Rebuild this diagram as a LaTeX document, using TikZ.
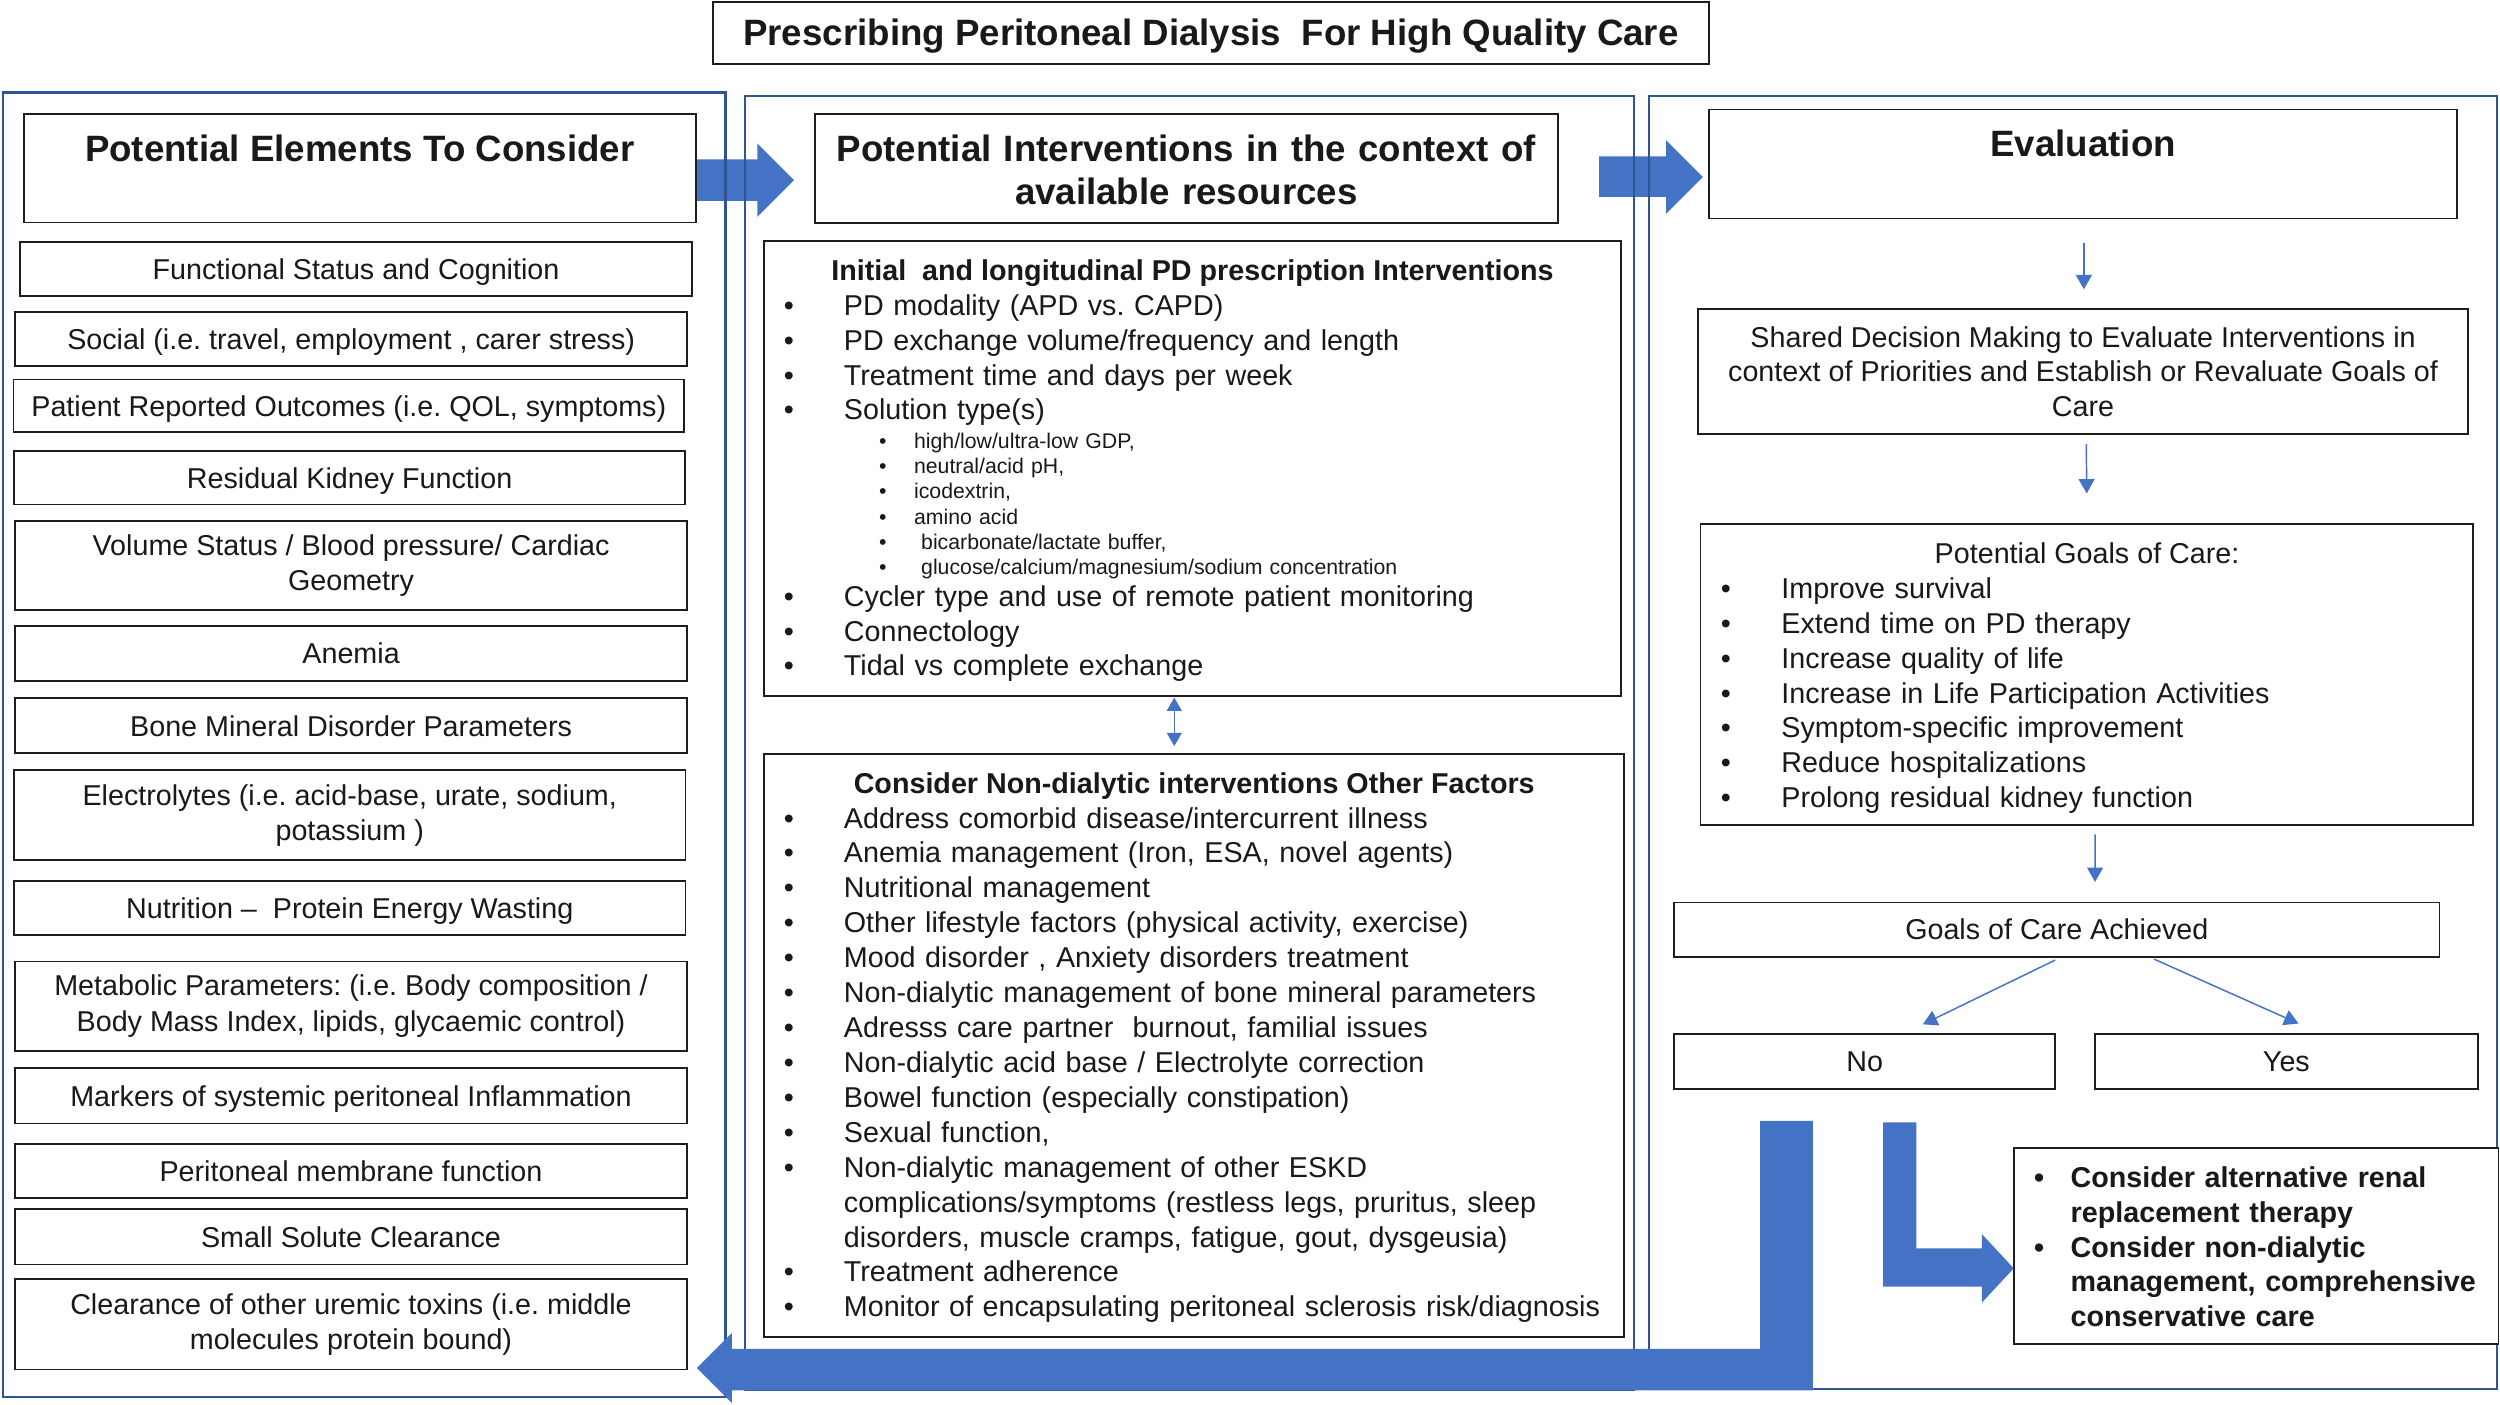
\documentclass[tikz,border=0pt]{standalone}
\usepackage{fontspec}
\setmainfont{Liberation Sans}
\usetikzlibrary{arrows.meta,calc}
\definecolor{pblue}{RGB}{47,85,151}
\definecolor{ablue}{RGB}{68,114,196}
\definecolor{txt}{RGB}{25,25,25}
\definecolor{bdr}{RGB}{30,30,30}
\frenchspacing
\newlength\bw
\newcommand\itm[1]{\makebox[\bw][l]{\textbullet}#1}
\newcommand\cnt[1]{\hspace*{\bw}#1}
\newcommand\fR{\fontsize{10.8pt}{13.2pt}\selectfont}
\newcommand\fSh{\fontsize{10.8pt}{12.9pt}\selectfont}
\newcommand\fL{\fontsize{10.8pt}{13.14pt}\selectfont}
\newcommand\fLa{\fontsize{10.8pt}{13.02pt}\selectfont}
\newcommand\fS{\fontsize{8pt}{9.54pt}\selectfont}
\newcommand\fB{\fontsize{10.8pt}{13.02pt}\selectfont\bfseries}
\newcommand\fH{\fontsize{13.8pt}{16.2pt}\selectfont\bfseries}
\newcommand\bx[6]{\node[#1, minimum width={(#5-(#3))*0.6pt}, minimum height={(#6-(#4))*0.6pt}] (#2) at ({(#3+#5)/2},{(#4+#6)/2})}
\begin{document}
\begin{tikzpicture}[x=0.6pt, y=-0.6pt,
  box/.style={draw=bdr, line width=0.65pt, fill=white, text=txt, align=center, inner sep=0pt, font=\fR},
  one/.style={box, text height=7.8pt, text depth=0pt},
  panel/.style={draw=pblue, line width=0.8pt, inner sep=0pt},
  lst/.style={anchor=north west, inner sep=0pt, align=left, text width=#1, text=txt, execute at begin node={\parindent=0pt\relax}},
  tx/.style={inner sep=0pt, text=txt},
  arr/.style={draw=ablue, line width=0.55pt, -{Triangle[width=6pt,length=5.4pt]}},
  darr/.style={draw=ablue, line width=0.55pt, {Triangle[width=5.6pt,length=5pt]}-{Triangle[width=5.6pt,length=5pt]}},
  blk/.style={fill=ablue, draw=none}]
\useasboundingbox (0,0) rectangle (1568,881);
\fill[white] (0,0) rectangle (1568,881);

% top block arrows (under the panel lines)
\fill[blk] (433,100) -- (475,100) -- (475,90) -- (498,113) -- (475,136) -- (475,126) -- (433,126) -- cycle;
\fill[blk] (1003,98) -- (1045,98) -- (1045,88) -- (1068,111) -- (1045,134) -- (1045,123.5) -- (1003,123.5) -- cycle;

% panels
\bx{panel}{pL}{2}{58}{455}{876}{};
\bx{panel}{pM}{467}{60}{1025}{872}{};
\bx{panel}{pR}{1034}{60}{1566}{871}{};

% title
\bx{one, font=\fH, text height=9.9pt}{title}{447}{1.2}{1072}{40}{Prescribing Peritoneal Dialysis~ For High Quality Care};

% left column
\bx{box}{elem}{15}{71.5}{436.5}{139.5}{};
\node[tx, anchor=base, font=\fH] (elemT) at (225.7,101.2) {Potential Elements To Consider};
\bx{one}{f1}{12.6}{151.6}{434}{185.7}{Functional Status and Cognition};
\bx{one}{f2}{9.5}{195.5}{431}{229.6}{Social (i.e. travel, employment , carer stress)};
\bx{one}{f3}{8.5}{238}{429}{271}{Patient Reported Outcomes (i.e. QOL, symptoms)};
\bx{one}{f4}{9}{283}{429.5}{316.5}{Residual Kidney Function};
\bx{box}{f5}{9.4}{326.6}{431}{382.7}{Volume Status / Blood pressure/ Cardiac\\Geometry};
\bx{one}{f6}{9.4}{392.7}{431}{427}{Anemia};
\bx{one}{f7}{9.4}{438}{431}{472.5}{Bone Mineral Disorder Parameters};
\bx{box}{f8}{8.7}{483}{430}{539.5}{Electrolytes (i.e. acid-base, urate, sodium,\\potassium )};
\bx{one}{f9}{8.7}{552.7}{430}{586.6}{Nutrition –~ Protein Energy Wasting};
\bx{box}{f10}{9.3}{603}{431}{659}{Metabolic Parameters: (i.e. Body composition /\\Body Mass Index, lipids, glycaemic control)};
\bx{one}{f11}{9.3}{670}{431}{704.7}{Markers of systemic peritoneal Inflammation};
\bx{one}{f12}{9.3}{717.7}{431}{751.6}{Peritoneal membrane function};
\bx{one}{f13}{9.3}{758.5}{431}{793}{Small Solute Clearance};
\bx{box}{f14}{9.3}{802}{431}{859}{Clearance of other uremic toxins (i.e. middle\\molecules protein bound)};

% middle column
\bx{box}{inter}{511}{71.7}{977}{140}{};
\node[tx, anchor=north, align=center, text width=285pt, font=\fH] (interT) at (744,82.3) {\strut Potential Interventions in the context of\\available resources};

\bx{box}{pd}{479}{151}{1016.8}{436.4}{};
\node[tx, anchor=base, font=\fB] (pdH) at (747.9,175.9) {Initial~ and longitudinal PD prescription Interventions};
\node[lst=300pt, font=\fLa] (pdA) at (491.3,182.6) {\setlength\bw{22.6pt}\strut\itm{PD modality (APD vs. CAPD)}\\
\itm{PD exchange volume/frequency and length}\\
\itm{Treatment time and days per week}\\
\itm{Solution type(s)}};
\node[lst=250pt, font=\fS] (pdB) at (551,269.6) {\setlength\bw{13.2pt}\strut\itm{high/low/ultra-low GDP,}\\
\itm{neutral/acid pH,}\\
\itm{icodextrin,}\\
\itm{amino acid}\\
\itm{\ bicarbonate/lactate buffer,}\\
\itm{\ glucose/calcium/magnesium/sodium concentration}};
\node[lst=300pt, font=\fLa] (pdC) at (491.3,365) {\setlength\bw{22.6pt}\strut\itm{Cycler type and use of remote patient monitoring}\\
\itm{Connectology}\\
\itm{Tidal vs complete exchange}};

\bx{box}{nd}{479}{473}{1018.6}{838.6}{};
\node[tx, anchor=base, font=\fB] (ndH) at (749,497.5) {Consider Non-dialytic interventions Other Factors};
\node[lst=310pt, font=\fL] (ndL) at (491.3,503.7) {\setlength\bw{22.6pt}\strut\itm{Address comorbid disease/intercurrent illness}\\
\itm{Anemia management (Iron, ESA, novel agents)}\\
\itm{Nutritional management}\\
\itm{Other lifestyle factors (physical activity, exercise)}\\
\itm{Mood disorder , Anxiety disorders treatment}\\
\itm{Non-dialytic management of bone mineral parameters}\\
\itm{Adresss care partner~ burnout, familial issues}\\
\itm{Non-dialytic acid base / Electrolyte correction}\\
\itm{Bowel function (especially constipation)}\\
\itm{Sexual function,}\\
\itm{Non-dialytic management of other ESKD}\\
\cnt{complications/symptoms (restless legs, pruritus, sleep}\\
\cnt{disorders, muscle cramps, fatigue, gout, dysgeusia)}\\
\itm{Treatment adherence}\\
\itm{Monitor of encapsulating peritoneal sclerosis risk/diagnosis}};

\draw[darr] ($(pd.south)+(-11.4,0.6)$) -- ($(nd.north)+(-12.3,-4.5)$);

% right column
\bx{box}{eval}{1072}{68.6}{1541}{137}{};
\node[tx, anchor=base, font=\fH] (evalT) at (1306.5,98.2) {Evaluation};
\bx{box, font=\fSh}{shared}{1065}{194}{1548}{272}{Shared Decision Making to Evaluate Interventions in\\context of Priorities and Establish or Revaluate Goals of\\Care};
\bx{box}{goals}{1066.6}{328.7}{1551}{517.6}{};
\node[tx, anchor=base, font=\fR] (goalsH) at (1309,353.5) {Potential Goals of Care:};
\node[lst=280pt, font=\fL] (goalsL) at (1079,359.6) {\setlength\bw{22.8pt}\strut\itm{Improve survival}\\
\itm{Extend time on PD therapy}\\
\itm{Increase quality of life}\\
\itm{Increase in Life Participation Activities}\\
\itm{Symptom-specific improvement}\\
\itm{Reduce hospitalizations}\\
\itm{Prolong residual kidney function}};
\bx{one}{ach}{1050}{566}{1530}{600}{Goals of Care Achieved};
\bx{one}{no}{1050}{648.5}{1289}{683}{No};
\bx{one}{yes}{1314}{648.5}{1554}{683}{Yes};
\bx{box}{cons}{1263}{720}{1567}{843}{};
\node[lst=185pt, font=\fB] (consL) at (1275.4,729.5) {\setlength\bw{13.8pt}\strut\itm{Consider alternative renal}\\
\cnt{replacement therapy}\\
\itm{Consider non-dialytic}\\
\cnt{management, comprehensive}\\
\cnt{conservative care}};

\draw[arr] ($(eval.south)+(0.5,15)$) -- ($(shared.north)+(0.5,-12)$);
\draw[arr] ($(shared.south)+(2,6)$) -- ($(goals.south|-goals.north)+(0,-18.7)$);
\draw[arr] ($(goals.south)+(5.2,5.2)$) -- ($(ach.north)+(24,-12.3)$);
\draw[arr] ($(ach.south)+(-1,1.6)$) -- ($(no.north)+(36.5,-5.5)$);
\draw[arr] ($(ach.south)+(61,1)$) -- ($(yes.north)+(7.6,-6)$);

% big return arrow from No back to the elements
\fill[blk] (1104,703) -- (1137,703) -- (1137,872) -- (459,872) -- (459,880) -- (437,858) -- (459,836) -- (459,846) -- (1104,846) -- cycle;
% L arrow to the conservative-care box
\fill[blk] (1181,704) -- (1202,704) -- (1202,783) -- (1243,783) -- (1243,774) -- (1263,795.5) -- (1243,817) -- (1243,807) -- (1181,807) -- cycle;
\end{tikzpicture}
\end{document}
